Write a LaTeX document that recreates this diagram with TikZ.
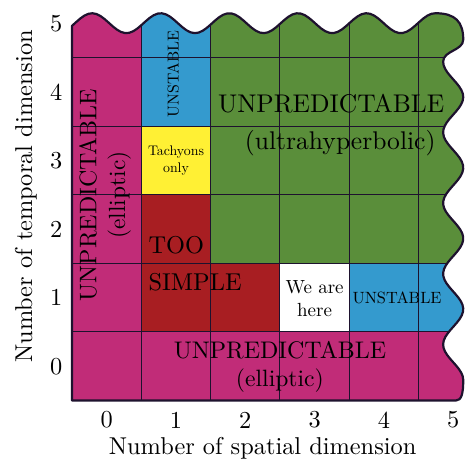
\documentclass[tikz,border=0pt]{standalone}
\definecolor{cmag}{RGB}{193,44,120}
\definecolor{cblue}{RGB}{52,154,206}
\definecolor{cgreen}{RGB}{90,142,58}
\definecolor{cyel}{RGB}{255,240,52}
\definecolor{cred}{RGB}{168,30,34}
\definecolor{cline}{RGB}{30,18,46}
\begin{document}
\begin{tikzpicture}[x=1cm, y=0.99cm,
  lbl/.style={inner sep=0pt, transform shape, text=black, align=center},
  gridl/.style={draw=cline, line width=0.45pt},
  edge/.style={draw=cline, line width=0.9pt, line join=round},
  tick/.style={inner sep=0pt, text=black}
]
\useasboundingbox (-1.540,-1.586) rectangle (5.31,5.338);
\def\outline{(-0.5,-0.5) -- plot[domain=-0.5:4.745, samples=90, variable=\t] (\t,{5.0+0.145*cos(360*(\t+0.211)/0.99)})
  .. controls (5.03,5.145) and (5.145,5.02) .. (5.145,4.76)
  .. controls (5.145,4.60) and (4.855,4.60) .. (4.855,4.44)
  -- plot[domain=0:4.64, samples=90, variable=\t] ({5+0.145*cos(360*(4.64-\t)/1.031)},{4.44-\t})
  .. controls (5.145,-0.4) and (5.12,-0.5) .. (5.04,-0.5) -- cycle}
\begin{scope}
  \clip \outline;
  \fill[cmag] (-1,-1) rectangle (6,6);
  \fill[cblue] (0.5,3.5) rectangle (1.5,6);
  \fill[cyel] (0.5,2.5) rectangle (1.5,3.5);
  \fill[cred] (0.5,0.5) rectangle (2.5,1.5) (0.5,1.5) rectangle (1.5,2.5);
  \fill[white] (2.5,0.5) rectangle (3.5,1.5);
  \fill[cblue] (3.5,0.5) rectangle (6,1.5);
  \fill[cgreen] (1.5,1.5) rectangle (6,6);
  \foreach \i in {0.5,1.5,...,4.5} {
    \draw[gridl] (\i,-1) -- (\i,6);
    \draw[gridl] (-1,\i) -- (6,\i);
  }
\end{scope}
\draw[edge] \outline;

% region labels
\node[lbl, scale=1.05] (g1) at (3.24,3.822) {UNPREDICTABLE};
\node[lbl, scale=1.05] (g2) at (3.37,3.254) {(ultrahyperbolic)};
\node[lbl, scale=0.985] (e1) at (2.5,0.236) {UNPREDICTABLE};
\node[lbl, scale=0.97] (e2) at (2.5,-0.216) {(elliptic)};
\node[lbl, scale=0.985, rotate=90] (l1) at (-0.27,2.495) {UNPREDICTABLE};
\node[lbl, scale=0.96, rotate=90] (l2) at (0.18,2.495) {(elliptic)};
\node[lbl, scale=0.65, rotate=90] (u1) at (0.957,4.259) {UNSTABLE};
\node[lbl, scale=0.57] (ty) at (1.0,2.995) {Tachyons\\only};
\node[lbl, scale=1.0, anchor=west] (too) at (0.597,1.767) {TOO};
\node[lbl, scale=1.0, anchor=west] (simple) at (0.597,1.22) {SIMPLE};
\node[lbl, scale=0.78] (here) at (3.0,0.98) {We are\\here};
\node[lbl, scale=0.67] (u2) at (4.19,0.994) {UNSTABLE};

% ticks
\foreach \k in {0,...,5} {
  \node[tick] (xt\k) at (\k,-0.784) {\k};
  \node[tick] (yt\k) at (-0.73,\k) {\k};
}
\node[tick, anchor=base] (xlab) at (2.25,-1.294) {Number of spatial dimension};
\node[tick, anchor=base, rotate=90] (ylab) at (-1.077,2.474) {Number of temporal dimension};
\end{tikzpicture}
\end{document}
